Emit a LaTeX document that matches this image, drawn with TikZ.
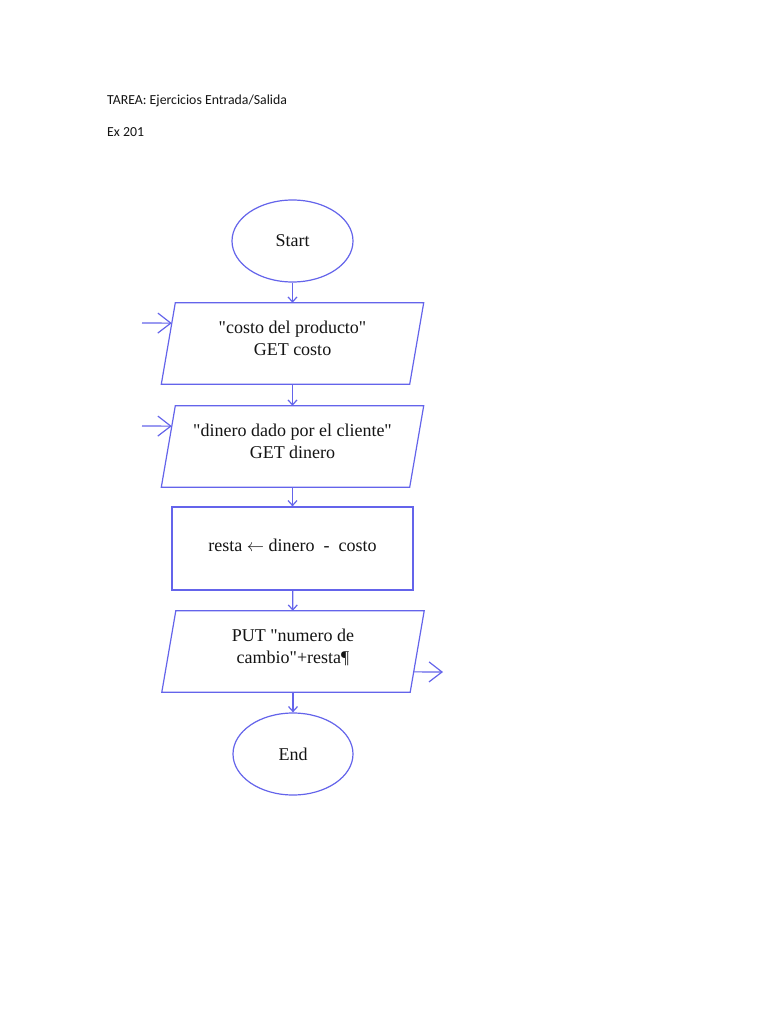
\documentclass[tikz,border=0pt]{standalone}
\usepackage{fontspec}
\setmainfont{Liberation Serif}
\newfontfamily\hdr{Carlito}
\usetikzlibrary{shapes.geometric,arrows.meta,calc}
\definecolor{fc}{RGB}{100,100,235}
\definecolor{tx}{RGB}{20,20,20}
\newcommand{\qq}{\textquotedbl}
\begin{document}
\begin{tikzpicture}[x=1pt,y=-1pt,
  flow/.style={draw=fc,line width=1.2pt},
  term/.style={flow,ellipse,minimum width=121pt,minimum height=82pt,inner sep=0pt,font=\fontsize{18}{20}\selectfont,text=tx},
  io/.style={minimum width=262pt,minimum height=81pt,inner sep=0pt,align=center,text depth=10pt,font=\fontsize{18}{22}\selectfont,text=tx},
  proc/.style={flow,rectangle,minimum width=241pt,minimum height=83pt,inner sep=0pt,align=center,text depth=7pt,font=\fontsize{18}{22}\selectfont,text=tx},
  link/.style={draw=fc,line width=1.2pt,-{Straight Barb[length=5pt,width=9pt]}},
  inarrow/.style={draw=fc,line width=1.2pt,-{Straight Barb[length=13pt,width=20pt]}},
  hd/.style={font=\hdr\fontsize{13.8}{16}\selectfont,anchor=base west,inner sep=0pt,text=tx}]
\useasboundingbox[fill=white] (0,0) rectangle (768,1024);

\node[hd] (title) at (107,105) {TAREA: Ejercicios Entrada/Salida};
\node[hd] (ex) at (107,137) {Ex 201};

\node[term] (start) at (292.5,241) {Start};
\node[io] (p1) at (292.5,343.5) {\qq costo del producto\qq\\GET costo};
\node[io] (p2) at (292.5,446.5) {\qq dinero dado por el cliente\qq\\GET dinero};
\node[proc] (r1) at (292.5,548.5) {resta $\leftarrow$ dinero~~-~~costo};
\node[io] (p3) at (293,651.5) {PUT \qq numero de\\cambio\qq+resta¶};
\node[term,minimum width=120pt] (end) at (293,754) {End};

\foreach \p in {p1,p2,p3}{
  \draw[flow] ([xshift=14pt]\p.north west) -- (\p.north east) -- ([xshift=-14pt]\p.south east) -- (\p.south west) -- cycle;
}

\coordinate (in1) at (142,323);
\coordinate (in2) at (142,426);
\coordinate (out1) at (443,672);

\draw[link] (start) -- (p1);
\draw[link] (p1) -- (p2);
\draw[link] (p2) -- (r1);
\draw[link] (r1) -- (p3);
\draw[link] (p3) -- (end);

\draw[inarrow] (in1) -- ($([xshift=14pt]p1.north west)!0.25!(p1.south west)$);
\draw[inarrow] (in2) -- ($([xshift=14pt]p2.north west)!0.25!(p2.south west)$);
\draw[inarrow] ($(p3.north east)!0.75!([xshift=-14pt]p3.south east)$) -- (out1);
\end{tikzpicture}
\end{document}
